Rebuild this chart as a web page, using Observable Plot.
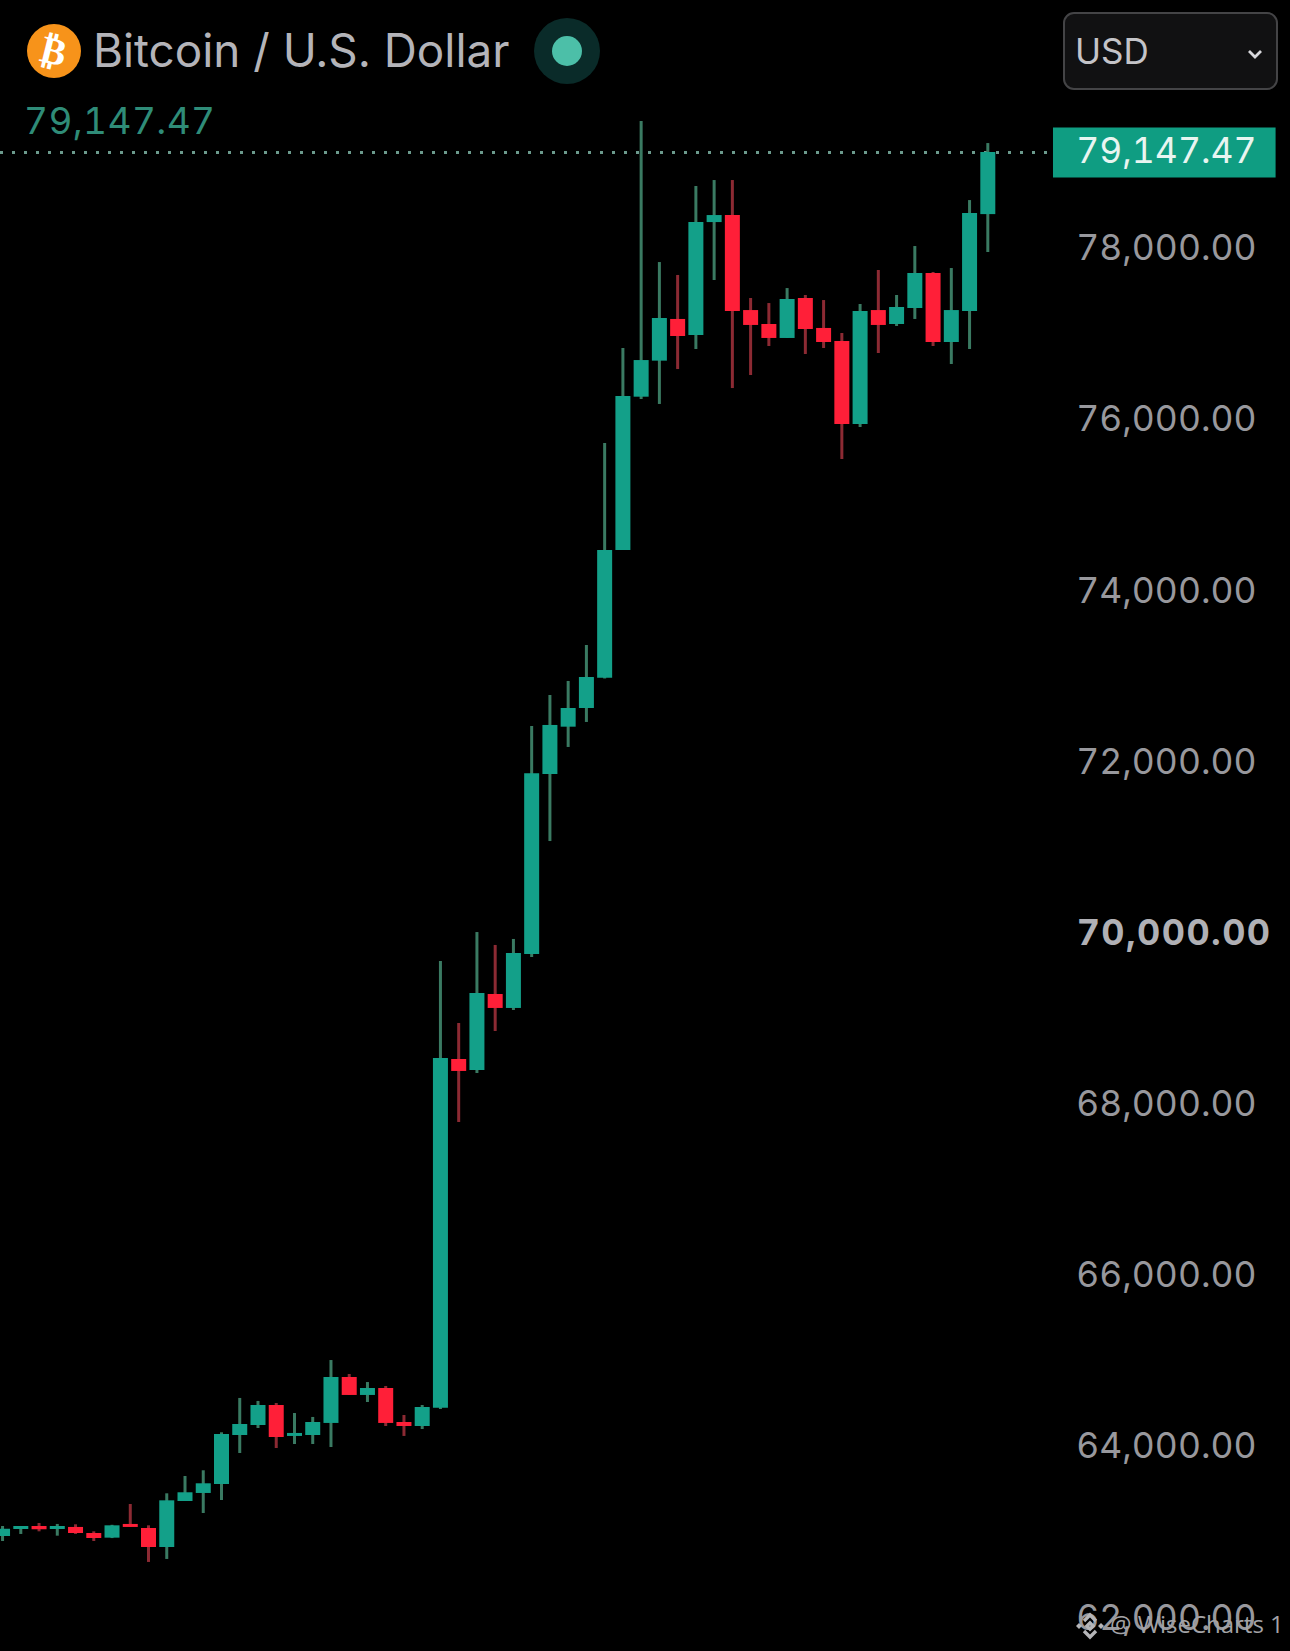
<!DOCTYPE html>
<html><head><meta charset="utf-8">
<script src="https://cdn.jsdelivr.net/npm/d3@7"></script>
<script src="https://cdn.jsdelivr.net/npm/@observablehq/plot@0.6"></script>
<style>
html,body{margin:0;padding:0;background:#000;overflow:hidden;width:1290px;height:1651px}
#wrap{position:relative;width:1290px;height:1651px;font-family:Inter,"Noto Sans",sans-serif}
#wrap svg.plot,#chart svg{display:block}
.abs{position:absolute;white-space:nowrap}
</style></head><body>
<div id="wrap">
  <div id="chart"></div>
  <div class="abs" style="left:27px;top:24px;width:54px;height:54px;border-radius:50%;background:#f7931a;color:#fff;font:bold 38px/54px 'DejaVu Sans';text-align:center"><span style="display:inline-block;transform:rotate(14deg)">₿</span></div>
  <div class="abs" id="title" style="left:93px;top:21px;font-size:45.8px;line-height:60px;color:#b4b4b9;">Bitcoin / U.S. Dollar</div>
  <div class="abs" style="left:534px;top:18px;width:66px;height:66px;border-radius:50%;background:#0a2b29"></div>
  <div class="abs" style="left:552px;top:36px;width:30px;height:30px;border-radius:50%;background:#4cbfa8"></div>
  <div class="abs" id="price" style="left:24px;top:96px;font-size:37px;line-height:50px;color:#2f8c78;font-variant-numeric:tabular-nums;letter-spacing:0.4px">79,147.47</div>
  <div class="abs" style="left:1063px;top:12px;width:211px;height:74px;border:2px solid #444446;border-radius:11px;background:#111112"></div>
  <div class="abs" style="left:1075px;top:26px;font-size:35px;line-height:50px;color:#c4c4c8">USD</div>
  <div class="abs" style="left:1247px;top:44px;width:14px;height:12px;">
    <svg width="16" height="12" viewBox="0 0 16 12"><path d="M2 3 L8 9 L14 3" fill="none" stroke="#d8d8dc" stroke-width="2.8"/></svg>
  </div>
  <div class="abs" style="left:1074px;top:1610px;width:32px;height:32px">
    <svg width="32" height="32" viewBox="-16 -16 32 32" fill="none" stroke="#b5b5b8" stroke-width="3.4">
      <path d="M-6 -5 L0 -11 L6 -5"/><path d="M-6 5 L0 11 L6 5"/><path d="M-3 0 L0 -3 L3 0 L0 3 Z"/><path d="M-14 0 L-11 -3 L-8 0 L-11 3 Z" fill="#b5b5b8" stroke="none"/><path d="M14 0 L11 -3 L8 0 L11 3 Z" fill="#b5b5b8" stroke="none"/>
    </svg>
  </div>
  <div class="abs" id="mark" style="left:1110px;top:1604px;font:24px/40px 'Open Sans';color:#a3a3a7">@ WiseCharts 1</div>
</div>
<script>
const opens  = [62979,63061,63096,63061,63085,63014,62960,63120,63073,62851,63388,63482,63587,64159,64276,64510,64148,64159,64300,64837,64627,64708,64311,64264,64478,68552,68423,69311,69148,69778,71881,72434,72652,73006,74498,76289,76710,77197,77010,78329,78411,77301,77138,76975,77442,77092,76940,75970,77301,77138,77325,77734,76928,77290,78422];
const closes = [63064,63096,63058,63096,63014,62956,63104,63085,62851,63396,63490,63595,64171,64288,64510,64136,64183,64311,64837,64627,64708,64300,64264,64486,68563,68412,69323,69148,69790,71889,72454,72652,73014,74498,76297,76717,77208,76998,78329,78411,77290,77127,76975,77430,77080,76928,75970,77290,77127,77337,77734,76928,77301,78434,79147.47];
const highs  = [63096,63096,63131,63120,63116,63034,63110,63353,63104,63478,63680,63747,64191,64592,64557,64533,64416,64370,65035,64872,64778,64732,64393,64510,69697,68972,70035,69884,69954,72442,72804,72968,73388,75748,76858,79509,77862,77711,78750,78820,78820,77442,77383,77558,77477,77418,77033,77372,77769,77477,78049,77746,77792,78586,79252];
const lows   = [62921,63003,63034,62983,63003,62921,62955,63085,62676,62711,63388,63248,63400,63949,64241,64007,64054,64054,64019,64627,64545,64264,64148,64229,64463,67816,68388,68879,69124,69743,71098,72197,72489,72997,74498,76262,76204,76612,76846,77652,76390,76542,76881,76975,76788,76858,75561,75935,76799,77115,77197,76881,76671,76846,77979];
const plainTicks = [62000,64000,66000,68000,72000,74000,76000,78000];
const boldTicks = [70000];
const lastPrice = 79147.47;

const upBody = "#13a089", upWick = "#3a7a62", downBody = "#ff1f38", downWick = "#8c2a33";
const index = d3.range(opens.length);
const fmt = d3.format(",.2f");
const isUp = i => closes[i] >= opens[i];

const chart = Plot.plot({
  width: 1290, height: 1651,
  marginTop: 0, marginBottom: 0, marginLeft: 0, marginRight: 0,
  style: {background: "#000", fontFamily: "Inter, 'Noto Sans', sans-serif", overflow: "hidden", fontVariantNumeric: "tabular-nums"},
  x: {domain: [-0.1124, 70.59], axis: null},
  y: {domain: [61635.8, 80923.2], axis: null},
  color: {type: "identity"},
  marks: [
    Plot.ruleY([lastPrice], {x1: -0.1124, x2: 57.5, stroke: "#6c9a8d", strokeWidth: 3, strokeDasharray: "3 9"}),
    Plot.ruleX(index, {x: i => i, y1: i => lows[i], y2: i => highs[i], stroke: i => isUp(i) ? upWick : downWick, strokeWidth: 3}),
    Plot.ruleX(index, {x: i => i, y1: i => opens[i], y2: i => closes[i], stroke: i => isUp(i) ? upBody : downBody, strokeWidth: 15}),
    Plot.axisY({anchor: "right", ticks: plainTicks, tickFormat: fmt, tickSize: 0, tickPadding: 0, dx: -34, dy: -2, textAnchor: "end", fontSize: 35.5, fill: "#98989d", label: null}),
    Plot.axisY({anchor: "right", ticks: boldTicks, tickFormat: fmt, tickSize: 0, tickPadding: 0, dx: -19, dy: -2, textAnchor: "end", fontSize: 36, fontWeight: "bold", fill: "#b0b0b5", label: null}),
    Plot.ruleY([lastPrice], {x1: 57.6, x2: 69.8, stroke: "#0f9d82", strokeWidth: 50}),
    Plot.text([lastPrice], {y: d => d, frameAnchor: "right", dx: -34, dy: -1, textAnchor: "end", text: d => fmt(d), fontSize: 35.5, fill: "#e8f5f1"})
  ]
});
chart.querySelectorAll("text").forEach(t => { if (t.textContent === fmt(boldTicks[0])) t.style.letterSpacing = "1.4px"; });
document.getElementById("chart").appendChild(chart);
</script>
</body></html>
